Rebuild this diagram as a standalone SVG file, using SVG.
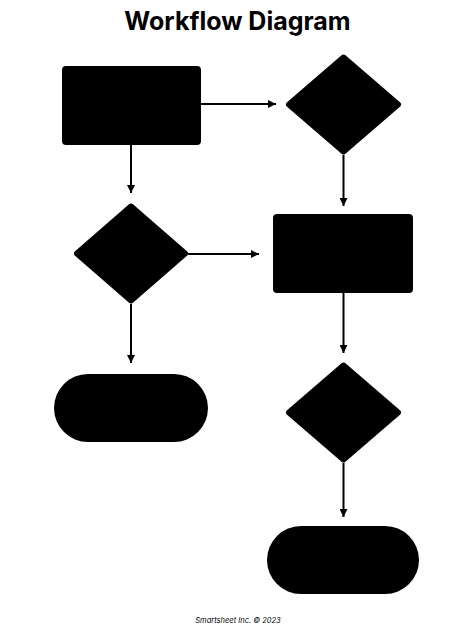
<svg xmlns="http://www.w3.org/2000/svg" width="474" height="635" viewBox="0 0 474 635">
<style>
.shape{fill:#000}
.dia{fill:#000;stroke:#000;stroke-width:6;stroke-linejoin:round}
.conn{stroke:#000;stroke-width:2;fill:none}
.title{font-family:Inter,"Liberation Sans",sans-serif;font-weight:700;font-size:25px;fill:#000}
.foot{font-family:Inter,"Liberation Sans",sans-serif;font-style:italic;font-size:7.5px;fill:#000}
</style>
<defs>
<marker id="ah" viewBox="0 0 8 8" refX="8" refY="4" markerWidth="8" markerHeight="8" markerUnits="userSpaceOnUse" orient="auto">
<path d="M0,0 L8,4 L0,8 Z" fill="#000"/>
</marker>
</defs>
<rect width="474" height="635" fill="#fff"/>
<text class="title" x="237.5" y="30" text-anchor="middle">Workflow Diagram</text>
<g id="connectors">
<line class="conn" x1="201" y1="104" x2="276" y2="104" marker-end="url(#ah)"/>
<line class="conn" x1="131" y1="145" x2="131" y2="193" marker-end="url(#ah)"/>
<line class="conn" x1="343.5" y1="155" x2="343.5" y2="206" marker-end="url(#ah)"/>
<line class="conn" x1="188" y1="254" x2="259" y2="254" marker-end="url(#ah)"/>
<line class="conn" x1="131" y1="304" x2="131" y2="363" marker-end="url(#ah)"/>
<line class="conn" x1="343.5" y1="293" x2="343.5" y2="353" marker-end="url(#ah)"/>
<line class="conn" x1="343.5" y1="463" x2="343.5" y2="517" marker-end="url(#ah)"/>
</g>
<g id="process1"><rect class="shape" x="62" y="66" width="139" height="79" rx="4"/></g>
<g id="decision1"><polygon class="dia" points="343.5,57.5 398,104.5 343.5,151.5 289,104.5"/></g>
<g id="decision2"><polygon class="dia" points="131,206.5 185,253.5 131,300.5 77,253.5"/></g>
<g id="process2"><rect class="shape" x="273" y="214" width="140" height="79" rx="4"/></g>
<g id="terminal1"><rect class="shape" x="54" y="374" width="154" height="68" rx="34"/></g>
<g id="decision3"><polygon class="dia" points="343.5,365.5 398,412.5 343.5,459.5 289,412.5"/></g>
<g id="terminal2"><rect class="shape" x="267" y="526" width="152" height="68" rx="34"/></g>
<text class="foot" x="238" y="623" text-anchor="middle">Smartsheet Inc. © 2023</text>
</svg>
